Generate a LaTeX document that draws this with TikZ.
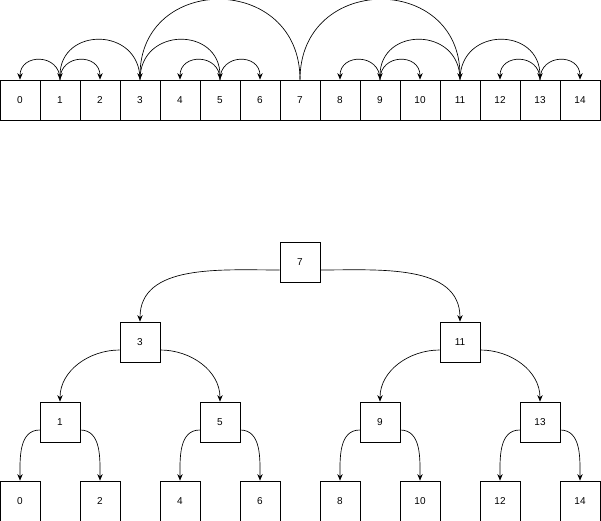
\documentclass[tikz,border=0pt]{standalone}
\usepackage{fontspec}
\setmainfont{Liberation Sans}
\usetikzlibrary{arrows.meta}
\begin{document}
\begin{tikzpicture}[x=0.75pt,y=-0.75pt,
  cell/.style={draw,minimum width=30pt,minimum height=30pt,inner sep=0pt,font=\fontsize{7.5}{9}\selectfont},
  arr/.style={-{Stealth[length=5pt,width=4pt]},line width=0.5pt}]
\useasboundingbox (0,0) rectangle (601,521);
% array
\foreach \i in {0,...,14} {\node[cell] (a\i) at (20+40*\i,100) {\i};}
% arcs (semicircles)
\foreach \p/\c/\r in {7/3/80,7/11/80,3/1/40,3/5/40,11/9/40,11/13/40,1/0/20,1/2/20,5/4/20,5/6/20,9/8/20,9/10/20,13/12/20,13/14/20} {
  \draw[arr] (a\p.north) .. controls +(0,-1.333*\r) and +(0,-1.333*\r) .. (a\c.north);
}
% tree
\node[cell] (t7) at (300,262) {7};
\node[cell] (t3) at (140,342) {3};
\node[cell] (t11) at (460,342) {11};
\node[cell] (t1) at (60,422) {1};
\node[cell] (t5) at (220,422) {5};
\node[cell] (t9) at (380,422) {9};
\node[cell] (t13) at (540,422) {13};
\foreach \n/\x in {0/20,2/100,4/180,6/260,8/340,10/420,12/500,14/580} {\node[cell] (t\n) at (\x,501) {\n};}
\foreach \p/\l/\r in {7/3/11,3/1/5,11/9/13,1/0/2,5/4/6,9/8/10,13/12/14} {
  \draw[arr] ([yshift=-6pt]t\p.west) to[out=180,in=90] (t\l.north);
  \draw[arr] ([yshift=-6pt]t\p.east) to[out=0,in=90] (t\r.north);
}
\end{tikzpicture}
\end{document}
